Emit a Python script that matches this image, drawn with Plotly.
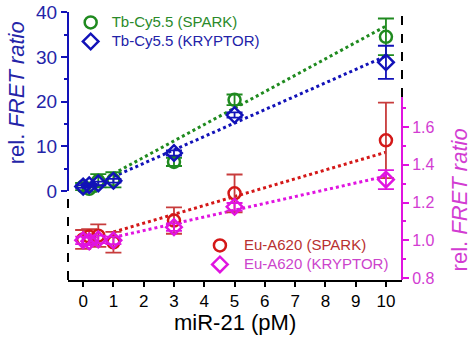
import numpy as np
import plotly.graph_objects as go

# ---------------- data ----------------
conc = [0, 0.2, 0.5, 1, 3, 5, 10]          # miR-21 (pM)

tb_spark = [1.0, 0.5, 2.3, 2.5, 6.5, 20.4, 34.5]
tb_spark_err = [0.8, 0.7, 1.5, 1.7, 0.9, 1.2, 4.1]
tb_kryptor = [1.0, 1.3, 1.7, 2.3, 8.5, 17.0, 28.8]
tb_kryptor_err = [0.3, 0.3, 0.4, 0.4, 0.6, 0.6, 3.7]

eu_spark = [1.005, 1.02, 1.025, 0.99, 1.105, 1.249, 1.53]
eu_spark_err = [0.05, 0.04, 0.06, 0.055, 0.07, 0.1, 0.2]
eu_kryptor = [1.0, 0.995, 1.005, 1.0, 1.07, 1.178, 1.322]
eu_kryptor_err = [0.02, 0.02, 0.02, 0.02, 0.02, 0.02, 0.05]

# linear fits (slope, intercept), drawn over 1..10 pM
fit_range = [1, 10]
fit_tb_spark = (3.67, 0.2)
fit_tb_kryptor = (3.0, 0.2)
fit_eu_spark = (0.047, 0.997)
fit_eu_kryptor = (0.036, 0.98)

x_ticks = list(range(0, 11))
left_ticks = [0, 10, 20, 30, 40]
right_ticks = [0.8, 1.0, 1.2, 1.4, 1.6]
right_ticktext = ["0.8", "1.0", "1.2", "1.4", "1.6"]

# ---------------- style ----------------
GREEN = "#1f8a1f"
BLUE = "#1212b8"
RED = "#d41818"
MAG = "#e014e0"
FONT = "Liberation Sans, Arial, sans-serif"

fig = go.Figure()

def fit_line(params, yaxis, color):
    xs = np.array(fit_range, dtype=float)
    ys = params[0] * xs + params[1]
    fig.add_trace(go.Scatter(x=xs, y=ys, mode="lines", yaxis=yaxis,
                             line=dict(color=color, width=3, dash="dot"),
                             showlegend=False, hoverinfo="skip"))

fit_line(fit_tb_spark, "y", GREEN)
fit_line(fit_tb_kryptor, "y", BLUE)
fit_line(fit_eu_spark, "y2", RED)
fit_line(fit_eu_kryptor, "y2", MAG)

def series(y, err, yaxis, color, symbol, name, legend, err_color=None):
    fig.add_trace(go.Scatter(
        x=conc, y=y, mode="markers", yaxis=yaxis, name=name, legend=legend,
        marker=dict(symbol=symbol, size=12, color=color,
                    line=dict(color=color, width=2.5)),
        error_y=dict(type="data", array=err, visible=True,
                     color=err_color or color, thickness=1.8, width=8),
    ))

def lg(text, color):
    return f"<span style='color:{color};font-size:15px'>{text}</span>"

series(tb_spark, tb_spark_err, "y", GREEN, "circle-open",
       lg("Tb-Cy5.5 (SPARK)", "#2a8a2a"), "legend")
series(tb_kryptor, tb_kryptor_err, "y", BLUE, "diamond-open",
       lg("Tb-Cy5.5 (KRYPTOR)", "#2222a8"), "legend")
series(eu_spark, eu_spark_err, "y2", RED, "circle-open",
       lg("Eu-A620 (SPARK)", "#b83030"), "legend2", err_color="#c83c3c")
series(eu_kryptor, eu_kryptor_err, "y2", MAG, "diamond-open",
       lg("Eu-A620 (KRYPTOR)", "#cc44cc"), "legend2")

L_RANGE = [-19.9, 40.05]
R_RANGE = [0.79, 2.21]
R_TOP_SOLID = 1.76

fig.update_layout(
    width=474, height=337,
    margin=dict(l=68, r=72, t=12, b=57, autoexpand=False),
    paper_bgcolor="white", plot_bgcolor="white",
    font=dict(family=FONT),
    xaxis=dict(range=[-0.5, 10.53], tickvals=x_ticks, ticks="outside",
               ticklen=5, tickwidth=1.5, tickcolor="black",
               showline=True, linecolor="black", linewidth=2,
               showgrid=False, zeroline=False, automargin=False,
               tickfont=dict(size=17, color="black")),
    yaxis=dict(range=L_RANGE, tickvals=left_ticks, ticks="outside",
               ticklen=6, tickwidth=2, tickcolor=BLUE,
               minor=dict(tickvals=[5, 15, 25, 35], ticklen=3, tickwidth=1.5,
                          tickcolor=BLUE, ticks="outside"),
               showline=False, showgrid=False, zeroline=False, automargin=False,
               tickfont=dict(size=19, color="#2424a8")),
    yaxis2=dict(range=R_RANGE, overlaying="y", side="right",
                tickvals=right_ticks, ticktext=right_ticktext, ticks="outside",
                ticklen=6, tickwidth=2, tickcolor=MAG,
                minor=dict(tickvals=[0.9, 1.1, 1.3, 1.5, 1.7], ticklen=3,
                           tickwidth=1.5, tickcolor=MAG, ticks="outside"),
                showline=False, showgrid=False, zeroline=False, automargin=False,
                tickfont=dict(size=16, color="#d23cd2")),
    legend=dict(x=0.005, y=1.015, xanchor="left", yanchor="top",
                bgcolor="rgba(0,0,0,0)", font=dict(size=12),
                tracegroupgap=0, itemwidth=32),
    legend2=dict(x=0.383, y=0.183, xanchor="left", yanchor="top",
                 bgcolor="rgba(0,0,0,0)", font=dict(size=12),
                 tracegroupgap=0, itemwidth=38),
    showlegend=True,
)

# axis lines (solid where the axis applies, dashed black elsewhere)
fig.add_shape(type="line", xref="paper", yref="y", x0=0, x1=0,
              y0=0, y1=L_RANGE[1], line=dict(color=BLUE, width=2))
fig.add_shape(type="line", xref="paper", yref="y", x0=0, x1=0,
              y0=L_RANGE[0], y1=0, line=dict(color="black", width=2, dash="dash"))
fig.add_shape(type="line", xref="paper", yref="y2", x0=1, x1=1,
              y0=R_RANGE[0], y1=R_TOP_SOLID, line=dict(color=MAG, width=2))
fig.add_shape(type="line", xref="paper", yref="y2", x0=1, x1=1,
              y0=R_TOP_SOLID, y1=R_RANGE[1], line=dict(color="black", width=2, dash="dash"))

# axis titles
fig.add_annotation(text="rel. <i>FRET ratio</i>", xref="paper", yref="paper",
                   x=-0.153, y=0.70, xanchor="center", yanchor="middle",
                   textangle=-90, showarrow=False,
                   font=dict(size=22, color="#2424a8"))
fig.add_annotation(text="rel. <i>FRET ratio</i>", xref="paper", yref="paper",
                   x=1.173, y=0.30, xanchor="center", yanchor="middle",
                   textangle=-90, showarrow=False,
                   font=dict(size=22, color="#d23cd2"))
fig.add_annotation(text="miR-21 (pM)", xref="paper", yref="paper",
                   x=0.5, y=-0.16, xanchor="center", yanchor="middle",
                   showarrow=False,
                   font=dict(size=22, color="black"))

fig.write_html("out.html")
